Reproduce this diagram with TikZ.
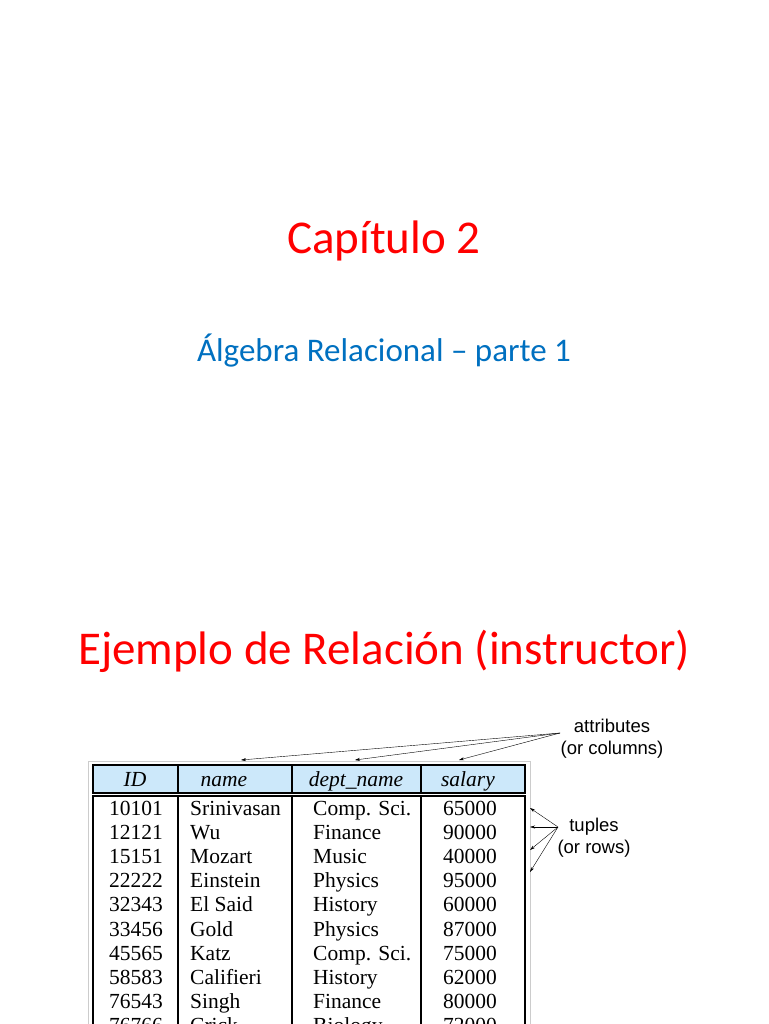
\documentclass[tikz,border=0pt]{standalone}
\usepackage{fontspec}
\usetikzlibrary{arrows.meta}
\setmainfont{Liberation Serif}
\newfontfamily\calfont{Carlito}
\newfontfamily\lsans{Liberation Sans}
\definecolor{tred}{RGB}{255,0,0}
\definecolor{tblue}{RGB}{0,112,192}
\definecolor{hdr}{RGB}{204,232,250}
\begin{document}
\begin{tikzpicture}[x=1pt,y=-1pt,
  cell/.style={font=\fontsize{21.5}{21.5}\selectfont,inner sep=0pt,anchor=base},
  hcell/.style={font=\itshape\fontsize{21.5}{21.5}\selectfont,inner sep=0pt,anchor=base},
  lab/.style={font=\lsans\fontsize{18.5}{22}\selectfont,inner sep=0pt,align=center},
  arr/.style={-{Stealth[length=5pt,width=3pt]},thin}]
\useasboundingbox (0,0) rectangle (768,1024);
\clip (0,0) rectangle (768,1024);
\node[font=\calfont\fontsize{47}{47}\selectfont,text=tred] (t1) at (384,241) {Capítulo 2};
\node[font=\calfont\fontsize{33}{33}\selectfont,text=tblue] (t2) at (384,351) {Álgebra Relacional – parte 1};
\node[font=\calfont\fontsize{47}{47}\selectfont,text=tred] (t3) at (384,651) {Ejemplo de Relación (instructor)};
% table
\draw[gray!40] (88,761) rectangle (530,1030);
\filldraw[fill=hdr,draw=black,line width=1.3pt] (93,765) rectangle (525,793);
\draw[line width=1.3pt] (93,796) rectangle (525,1040);
\foreach \x in {178,292,421}{\draw[line width=1.3pt] (\x,765)--(\x,793) (\x,796)--(\x,1040);}
\node[hcell] (hID) at (135,786) {ID};
\node[hcell] (hname) at (224,786) {name};
\node[hcell] (hdept) at (356,786) {dept\_name};
\node[hcell] (hsal) at (468,786) {salary};
\foreach \i/\a/\b/\c/\d in {0/10101/Srinivasan/Comp. Sci./65000,1/12121/Wu/Finance/90000,2/15151/Mozart/Music/40000,3/22222/Einstein/Physics/95000,4/32343/El Said/History/60000,5/33456/Gold/Physics/87000,6/45565/Katz/Comp. Sci./75000,7/58583/Califieri/History/62000,8/76543/Singh/Finance/80000,9/76766/Crick/Biology/72000}{
  \node[cell] (id\i) at (136,{815+24.2*\i}) {\a};
  \node[cell,anchor=base west] (nm\i) at (190,{815+24.2*\i}) {\b};
  \node[cell,anchor=base west] (dp\i) at (313,{815+24.2*\i}) {\c};
  \node[cell] (sl\i) at (470,{815+24.2*\i}) {\d};
}
% labels
\node[lab] (attr) at (612,739) {attributes\\(or columns)};
\node[lab] (tup) at (594,838) {tuples\\(or rows)};
\coordinate (as) at (560,733);
\coordinate (ts) at (558,827);
\foreach \x in {241,355,459}{\draw[arr] (as) -- (\x,760);}
\foreach \y in {808,827,850,872}{\draw[arr] (ts) -- (530,\y);}
\end{tikzpicture}
\end{document}
